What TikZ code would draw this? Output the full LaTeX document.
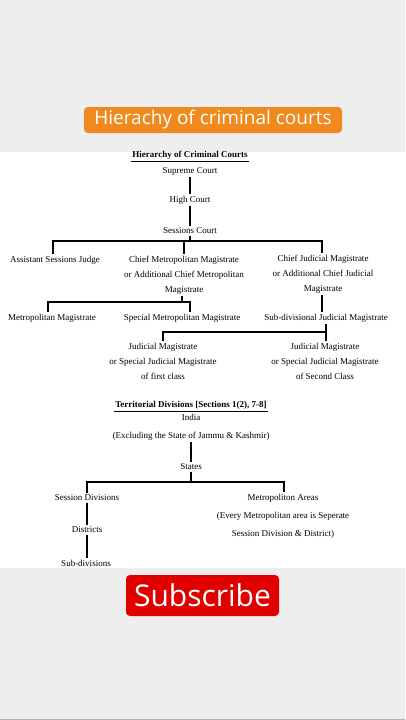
\documentclass[tikz,border=0pt]{standalone}
\usepackage{fontspec}
\setmainfont{Liberation Serif}
\newfontfamily\btnfont{Open Sans}
\usetikzlibrary{calc}
\definecolor{bgc}{HTML}{EEEEEE}
\definecolor{orangebtn}{HTML}{F08A1E}
\definecolor{redbtn}{HTML}{E10000}
\begin{document}
\begin{tikzpicture}[x=1pt,y=-1pt,
  txt/.style={font=\fontsize{9}{15}\selectfont, align=center, inner sep=1.5pt},
  ttxt/.style={font=\fontsize{9}{18}\selectfont, align=center, inner sep=1.5pt},
  head/.style={font=\bfseries\fontsize{9}{11}\selectfont, inner sep=0.8pt},
  link/.style={line width=1.6pt},
  uline/.style={line width=0.7pt},
  btn/.style={text=white, rounded corners=4pt, inner sep=0pt}]
\useasboundingbox (0,0) rectangle (405,720);
\fill[bgc] (0,0) rectangle (405,720);
\fill[white] (0,152) rectangle (405,568);
\fill[gray!60] (0,718.5) rectangle (405,720);

% title button
\node[btn, fill=orangebtn, minimum width=258pt, minimum height=26pt,
  font=\btnfont\fontsize{19}{19}\selectfont] (title) at (213,120) {Hierachy of criminal courts};

% hierarchy
\node[head] (h1) at (190,155) {Hierarchy of Criminal Courts};
\draw[uline] ($(h1.south west)+(0,1)$) -- ($(h1.south east)+(0,1)$);
\node[txt] (sup) at (190,171) {Supreme Court};
\node[txt] (hc) at (190,200) {High Court};
\node[txt] (sc) at (190,231) {Sessions Court};
\draw[link] (sup.south) -- (hc.north);
\draw[link] (hc.south) -- (sc.north);

\node[txt] (asj) at (55,260) {Assistant Sessions Judge};
\node[txt] (cmm) at (184,275) {Chief Metropolitan Magistrate\\or Additional Chief Metropolitan\\Magistrate};
\node[txt] (cjm) at (323,274) {Chief Judicial Magistrate\\or Additional Chief Judicial\\Magistrate};
\coordinate (j1) at (190,241);
\draw[link] (sc.south) -- (j1);
\draw[link] ($(asj.north)+(-2,0)$) |- (j1) -| ($(cjm.north)+(-1,0)$);
\draw[link] (j1 -| cmm.north) -- (cmm.north);

\node[txt] (mm) at (52,318) {Metropolitan Magistrate};
\node[txt] (smm) at (182,318) {Special Metropolitan Magistrate};
\node[txt] (sdjm) at (326,318) {Sub-divisional Judicial Magistrate};
\coordinate (j2) at (182,302);
\draw[link] (cmm.south -| j2) -- (j2);
\draw[link] ($(mm.north)+(-4,0)$) |- (j2) -| ($(smm.north)+(8,0)$);
\draw[link] ($(cjm.south)+(-1,0)$) -- ($(cjm.south |- sdjm.north)+(-1,0)$);

\node[txt] (jm1) at (163,361) {Judicial Magistrate\\or Special Judicial Magistrate\\of first class};
\node[txt] (jm2) at (325,361) {Judicial Magistrate\\or Special Judicial Magistrate\\of Second Class};
\coordinate (j3) at (326,332);
\draw[link] (sdjm.south) -- (j3) -- (jm2.north -| j3);
\draw[link] (j3) -- (j3 -| jm1.north) -- (jm1.north);

% territorial divisions
\node[head] (h2) at (191,405) {Territorial Divisions [Sections 1(2), 7-8]};
\draw[uline] ($(h2.south west)+(0,1)$) -- ($(h2.south east)+(0,1)$);
\node[ttxt] (india) at (191,427) {India\\(Excluding the State of Jammu \& Kashmir)};
\node[txt] (states) at (191,467) {States};
\draw[link] (india.south) -- (states.north);
\coordinate (j4) at (191,482);
\draw[link] (states.south) -- (j4);
\node[txt] (sd) at (87,498) {Session Divisions};
\node[ttxt] (ma) at (283,516) {Metropoliton Areas\\(Every Metropolitan area is Seperate\\Session Division \& District)};
\draw[link] (sd.north) |- (j4) -| ($(ma.north)+(1,0)$);
\node[txt] (dist) at (87,530) {Districts};
\node[txt] (subd) at (86,563) {Sub-divisions};
\draw[link] (sd.south) -- (dist.north);
\draw[link] (dist.south) -- (dist.south |- subd.north);

% subscribe button
\node[btn, fill=redbtn, minimum width=153pt, minimum height=41pt,
  font=\btnfont\fontsize{30}{30}\selectfont] (sub) at (202.5,595.5) {Subscribe};
\end{tikzpicture}
\end{document}
